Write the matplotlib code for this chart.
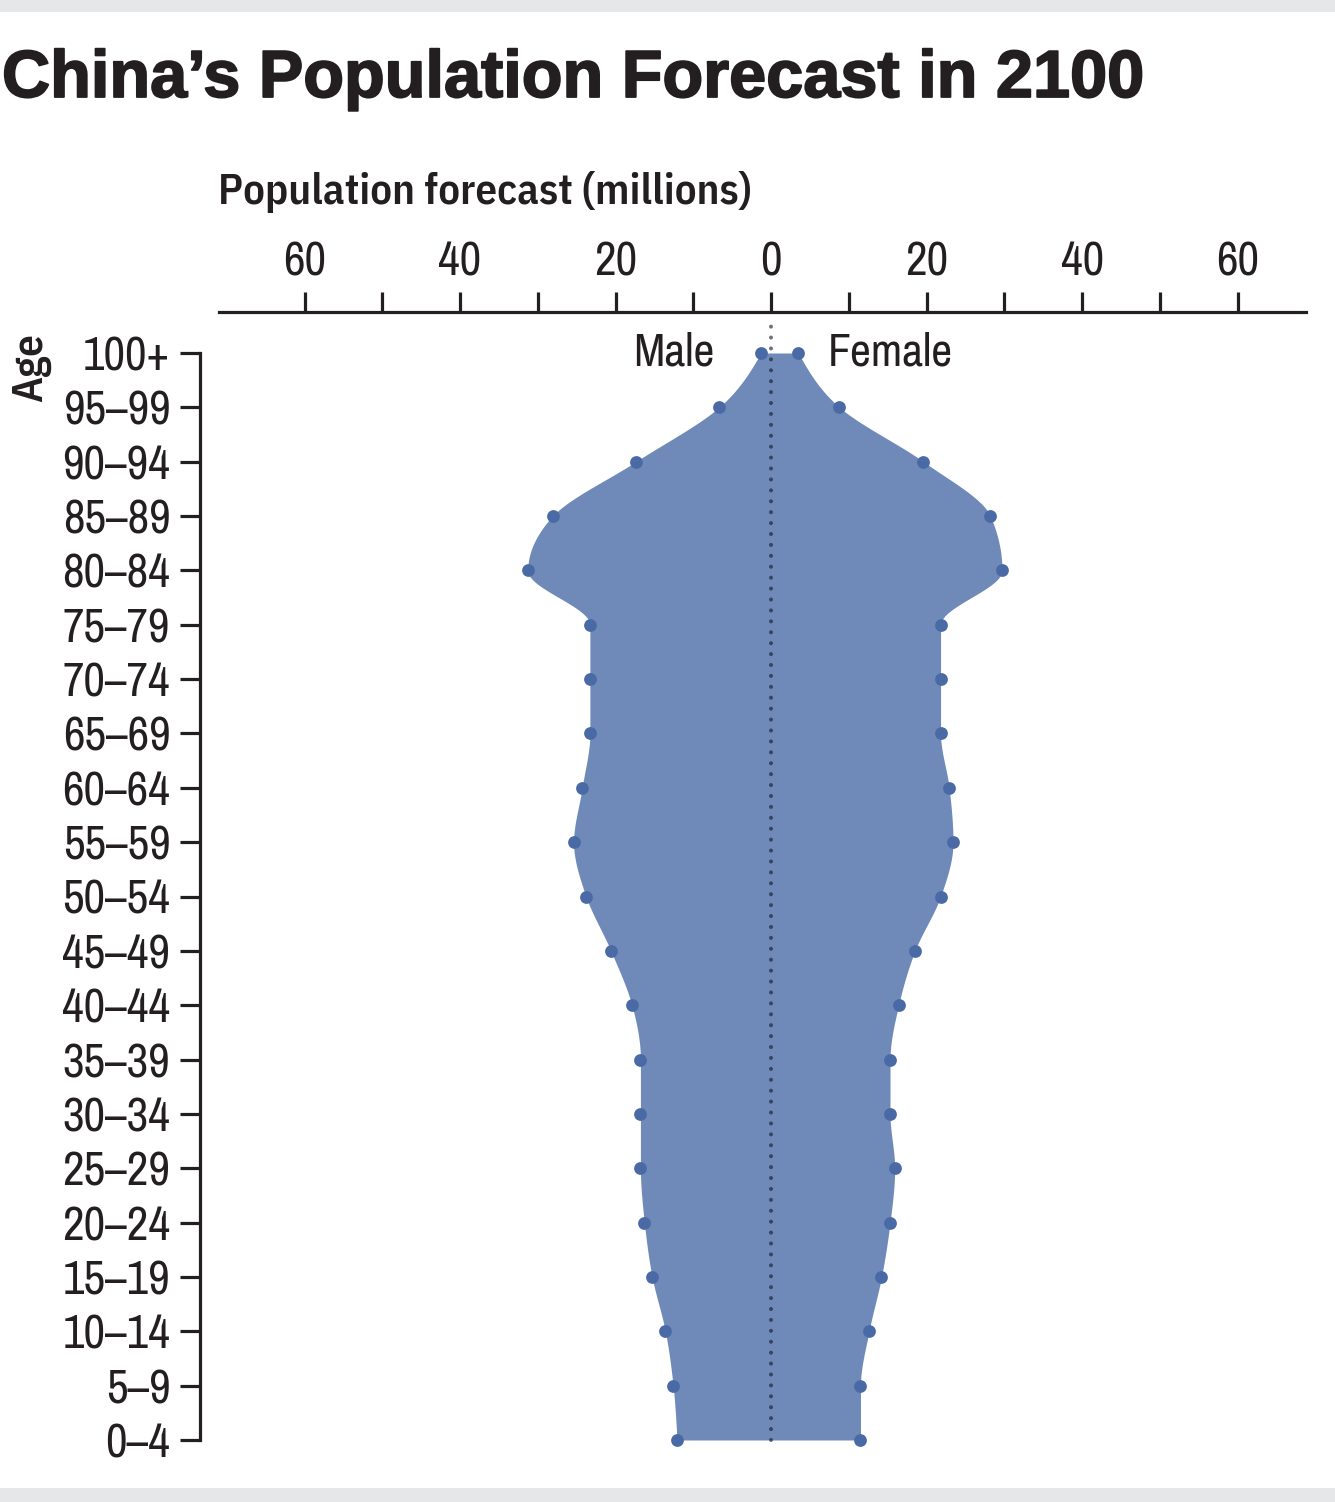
import numpy as np
import matplotlib
matplotlib.use("Agg")
import matplotlib.pyplot as plt
import matplotlib.patheffects as pe
from matplotlib.ticker import FixedLocator, FuncFormatter
from matplotlib.patches import Rectangle

# ---- data (millions) ----
age_groups = ["0–4", "5–9", "10–14", "15–19", "20–24", "25–29", "30–34", "35–39",
              "40–44", "45–49", "50–54", "55–59", "60–64", "65–69", "70–74",
              "75–79", "80–84", "85–89", "90–94", "95–99", "100+"]
male = [12.1, 12.6, 13.6, 15.3, 16.3, 16.8, 16.8, 16.8, 17.9, 20.6, 23.8,
        25.4, 24.3, 23.3, 23.3, 23.3, 31.3, 28.1, 17.4, 6.7, 1.3]
female = [11.5, 11.5, 12.6, 14.2, 15.3, 15.9, 15.3, 15.3, 16.4, 18.5, 21.8,
          23.4, 22.9, 21.8, 21.8, 21.8, 29.7, 28.2, 19.6, 8.8, 3.5]
x_ticks = [-60, -50, -40, -30, -20, -10, 0, 10, 20, 30, 40, 50, 60]
x_labelled = [-60, -40, -20, 0, 20, 40, 60]

TXT = "#231f20"
FILL = "#6f8ab8"
DOT = "#4a6aa6"
NARROW = ["Archivo Narrow", "DejaVu Sans"]
COND_BOLD = ["IBM Plex Sans Condensed", "DejaVu Sans"]
TITLE = ["Liberation Sans", "DejaVu Sans"]


def monotone(y, x, n=30):
    """Monotone (Steffen) cubic of x as a function of y."""
    y = np.asarray(y, float)
    x = np.asarray(x, float)
    h = np.diff(y)
    s = np.diff(x) / h
    m = np.zeros_like(x)
    for i in range(1, len(x) - 1):
        s0, s1 = s[i - 1], s[i]
        p = (s0 * h[i] + s1 * h[i - 1]) / (h[i - 1] + h[i])
        m[i] = (np.sign(s0) + np.sign(s1)) * min(abs(s0), abs(s1), 0.5 * abs(p))
    m[0] = (3 * s[0] - m[1]) / 2
    m[-1] = (3 * s[-1] - m[-2]) / 2
    yy, xx = [], []
    for i in range(len(x) - 1):
        t = np.linspace(0, 1, n, endpoint=(i == len(x) - 2))
        h00 = 2 * t**3 - 3 * t**2 + 1
        h10 = t**3 - 2 * t**2 + t
        h01 = -2 * t**3 + 3 * t**2
        h11 = t**3 - t**2
        yy.append(y[i] + t * h[i])
        xx.append(h00 * x[i] + h10 * h[i] * m[i] + h01 * x[i + 1] + h11 * h[i] * m[i + 1])
    return np.concatenate(yy), np.concatenate(xx)


W, H = 1335, 1502
fig = plt.figure(figsize=(W / 100, H / 100), dpi=100)
fig.patch.set_facecolor("white")

# grey bands top and bottom
fig.add_artist(Rectangle((0, 1 - 12 / H), 1, 12 / H, transform=fig.transFigure,
                         facecolor="#e6e7e9", edgecolor="none"))
fig.add_artist(Rectangle((0, 0), 1, 14 / H, transform=fig.transFigure,
                         facecolor="#e6e7e9", edgecolor="none"))

left, right = 219 / W, 1306 / W
top, bottom = 1 - 353 / H, 1 - 1440 / H
ax = fig.add_axes([left, bottom, right - left, top - bottom])

pos = np.arange(len(age_groups))
yy, xm = monotone(pos, male)
_, xf = monotone(pos, female)
ax.fill_betweenx(yy, -xm, xf, color=FILL, linewidth=0, zorder=1)

ax.plot([0, 0], [0, 20.65], linestyle=(0, (0.01, 2.7)), dash_capstyle="round",
        color="#15192a", alpha=0.62, linewidth=2.9, clip_on=False, zorder=2)

ax.scatter(-np.asarray(male), pos, s=9.2**2, color=DOT, zorder=3, clip_on=False,
           linewidths=0)
ax.scatter(np.asarray(female), pos, s=9.2**2, color=DOT, zorder=3, clip_on=False,
           linewidths=0)

ax.set_xlim(-71, 68.8)
ax.set_ylim(0, 20)

for sp in ["right", "bottom"]:
    ax.spines[sp].set_visible(False)
ax.spines["left"].set_position(("outward", 19 * 0.72))
ax.spines["left"].set_bounds(0, 20)
ax.spines["top"].set_position(("outward", 41 * 0.72))
for sp in ["left", "top"]:
    ax.spines[sp].set_linewidth(2.3)
    ax.spines[sp].set_color(TXT)

ax.xaxis.set_ticks_position("top")
ax.xaxis.set_major_locator(FixedLocator(x_ticks))
ax.xaxis.set_major_formatter(FuncFormatter(
    lambda v, p: f"{abs(int(v))}" if int(v) in x_labelled else ""))
ax.set_yticks(pos)
ax.set_yticklabels(age_groups)
ax.tick_params(axis="both", length=14.4, width=2.3, color=TXT, labelcolor=TXT,
               direction="out")
ax.tick_params(axis="x", pad=6)
ax.tick_params(axis="y", pad=7)
for lab in ax.get_xticklabels() + ax.get_yticklabels():
    lab.set_fontfamily(NARROW)
    lab.set_fontsize(34)

ax.text(-7.3, 20, "Male", ha="right", va="center", fontsize=33, family=NARROW,
        color=TXT)
ax.text(7.3, 20, "Female", ha="left", va="center", fontsize=33, family=NARROW,
        color=TXT)

fig.text(2 / W, 1 - 97 / H, "China’s Population Forecast in 2100", ha="left",
         va="baseline", fontsize=48, fontweight="bold", family=TITLE, color=TXT,
         path_effects=[pe.withStroke(linewidth=1.3, foreground=TXT)])
fig.text(218 / W, 1 - 204 / H, "Population forecast (millions)", ha="left",
         va="baseline", fontsize=31, fontweight="semibold", family=COND_BOLD,
         color=TXT)
fig.text(31 / W, 1 - 368 / H, "Age", ha="center", va="center", rotation=90,
         fontsize=31, fontweight="semibold", family=COND_BOLD, color=TXT)

fig.savefig("out.png", dpi=100)
